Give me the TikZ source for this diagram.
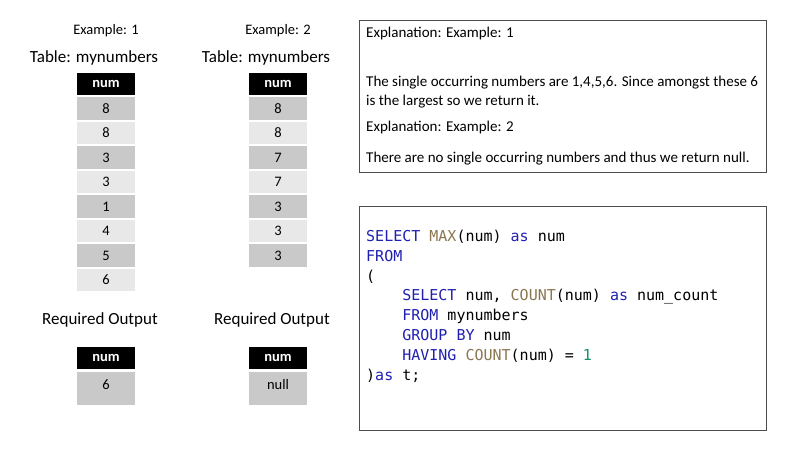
\documentclass[tikz,border=0pt]{standalone}
\usepackage{fontspec}
\setmainfont{Carlito}
\setmonofont{DejaVu Sans Mono}
\usepackage{tikz}
\definecolor{rowdark}{HTML}{C9C9C9}
\definecolor{rowlight}{HTML}{E8E8E8}
\definecolor{kwblue}{HTML}{1F1FB0}
\definecolor{fnbrown}{HTML}{8A7650}
\definecolor{numgreen}{HTML}{12906A}
\newcommand{\kw}[1]{\textcolor{kwblue}{#1}}
\newcommand{\fn}[1]{\textcolor{fnbrown}{#1}}
\newcommand{\ind}{\phantom{xxxx}}

\begin{document}
\begin{tikzpicture}[x=1pt,y=-1pt]
	\useasboundingbox (0,0) rectangle (800,450);
	\tikzset{cell/.style={minimum width=58pt,minimum height=22.5pt,inner sep=0pt,font=\fontsize{14.5}{14.5}\selectfont},
	         head/.style={cell,fill=black,text=white,font=\fontsize{14.5}{14.5}\selectfont\bfseries},
	         title/.style={font=\fontsize{17}{17}\selectfont},
	         small/.style={font=\fontsize{14.5}{14.5}\selectfont},
	         expltext/.style={anchor=west,inner sep=0pt,font=\fontsize{15}{18}\selectfont},
	         box/.style={draw=black!70,line width=0.8pt}}
	% example 1
	\node[small] (ex1) at (106,31) {Example: 1};
	\node[title] (tab1) at (94,58) {Table: mynumbers};
	\node[head] (h1) at (106,84) {num};
	\foreach \v [count=\i] in {8,8,3,3,1,4,5,6} {
		\ifodd\i \def\c{rowdark}\else \def\c{rowlight}\fi
		\node[cell,fill=\c] (a\i) at (106,84+24.5*\i) {\v};
	}
	% example 2
	\node[small] (ex2) at (278,31) {Example: 2};
	\node[title] (tab2) at (266,58) {Table: mynumbers};
	\node[head] (h2) at (278,84) {num};
	\foreach \v [count=\i] in {8,8,7,7,3,3,3} {
		\ifodd\i \def\c{rowdark}\else \def\c{rowlight}\fi
		\node[cell,fill=\c] (b\i) at (278,84+24.5*\i) {\v};
	}
	% required output
	\node[title] (req1) at (100,320) {Required Output};
	\node[title] (req2) at (272,320) {Required Output};
	\node[head] (oh1) at (106,358) {num};
	\node[cell,fill=rowdark,minimum height=33pt,anchor=north] (o1) at (106,371.5) {\raisebox{8pt}{6}};
	\node[head] (oh2) at (278,358) {num};
	\node[cell,fill=rowdark,minimum height=33pt,anchor=north] (o2) at (278,371.5) {\raisebox{8pt}{null}};
	% explanation
	\node[box,minimum width=407pt,minimum height=152pt,anchor=north west] (expl) at (359,20) {};
	\node[expltext] (e1) at (366,33) {Explanation: Example: 1};
	\node[expltext] (e2) at (366,83) {The single occurring numbers are 1,4,5,6. Since amongst these 6};
	\node[expltext] (e3) at (366,102) {is the largest so we return it.};
	\node[expltext] (e4) at (366,127) {Explanation: Example: 2};
	\node[expltext] (e5) at (366,159) {There are no single occurring numbers and thus we return null.};
	% query
	\node[box,minimum width=407pt,minimum height=224pt,anchor=north west] (code) at (359,206) {};
	\node[anchor=north west,align=left,inner sep=0pt,font=\ttfamily\fontsize{15}{19.8}\selectfont] (sql) at (366,230) {%
		\kw{SELECT} \fn{MAX}(num) \kw{as} num\\
		\kw{FROM}\\
		(\\
		\ind\kw{SELECT} num, \fn{COUNT}(num) \kw{as} num\_count\\
		\ind\kw{FROM} mynumbers\\
		\ind\kw{GROUP BY} num\\
		\ind\kw{HAVING} \fn{COUNT}(num) = \textcolor{numgreen}{1}\\
		)\kw{as} t;};
\end{tikzpicture}
\end{document}
